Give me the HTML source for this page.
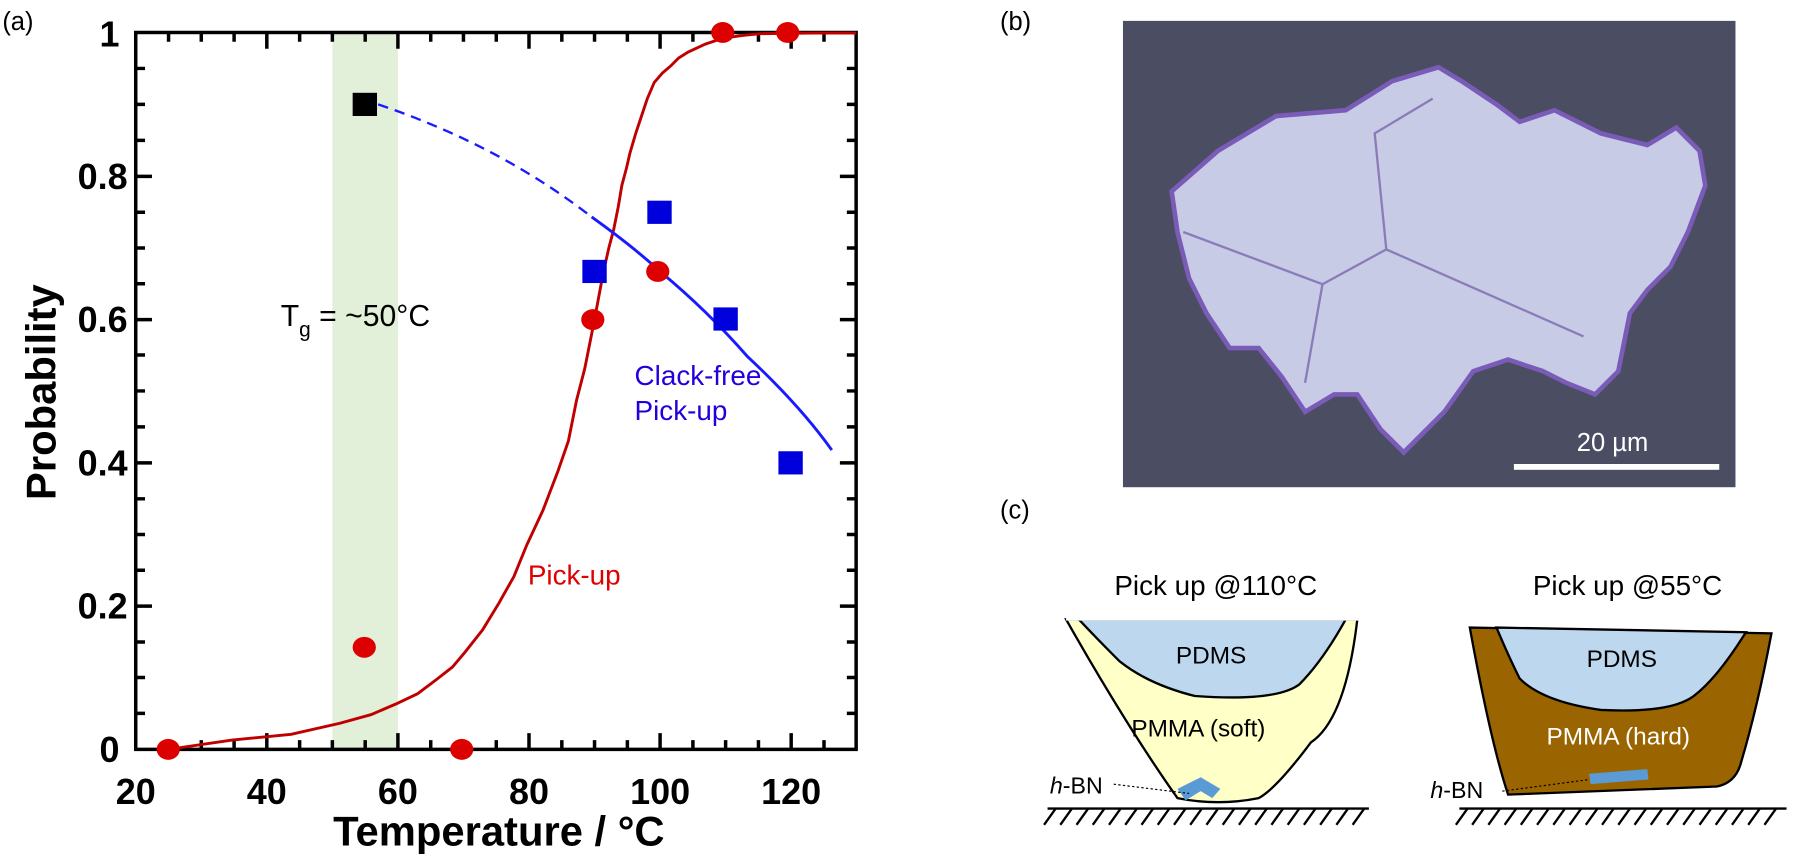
<!DOCTYPE html>
<html><head><meta charset="utf-8"><style>
html,body{margin:0;padding:0;background:#fff}
svg{display:block}
text{font-family:"Liberation Sans",sans-serif}
</style></head><body>
<svg width="1819" height="859" viewBox="0 0 1568 740.5" preserveAspectRatio="none" xmlns="http://www.w3.org/2000/svg">
<!-- panel a -->
<text x="2" y="26" font-size="22">(a)</text>
<rect x="286.5" y="28" width="56.5" height="618" fill="#e2efd9"/>
<g stroke="#000" stroke-width="3" fill="none">
<rect x="117" y="28" width="621" height="618"/>
</g>
<g stroke="#000" stroke-width="3">
<path d="M230 646v-14M343 646v-14M456 646v-14M569 646v-14M682 646v-14M230 28v14M343 28v14M456 28v14M569 28v14M682 28v14"/>
<path d="M145.3 646v-8M173.5 646v-8M201.8 646v-8M258.3 646v-8M286.5 646v-8M314.8 646v-8M371.3 646v-8M399.5 646v-8M427.8 646v-8M484.3 646v-8M512.5 646v-8M540.8 646v-8M597.3 646v-8M625.5 646v-8M653.8 646v-8M710.3 646v-8M145.3 28v8M173.5 28v8M201.8 28v8M258.3 28v8M286.5 28v8M314.8 28v8M371.3 28v8M399.5 28v8M427.8 28v8M484.3 28v8M512.5 28v8M540.8 28v8M597.3 28v8M625.5 28v8M653.8 28v8M710.3 28v8"/>
<path d="M117 522.5h14M117 399h14M117 275.5h14M117 152h14M738 522.5h-14M738 399h-14M738 275.5h-14M738 152h-14"/>
<path d="M117 615h8M117 584h8M117 553.4h8M117 491.6h8M117 460.8h8M117 430h8M117 368h8M117 337h8M117 306h8M117 244.6h8M117 213.8h8M117 183h8M117 121h8M117 90h8M117 59h8M738 615h-8M738 584h-8M738 553.4h-8M738 491.6h-8M738 460.8h-8M738 430h-8M738 368h-8M738 337h-8M738 306h-8M738 244.6h-8M738 213.8h-8M738 183h-8M738 121h-8M738 90h-8M738 59h-8"/>
</g>
<g font-size="31" font-weight="bold" text-anchor="middle">
<text x="117" y="693">20</text><text x="230" y="693">40</text><text x="343" y="693">60</text><text x="456" y="693">80</text><text x="569" y="693">100</text><text x="682" y="693">120</text>
</g>
<g font-size="31" font-weight="bold" text-anchor="end">
<text x="103" y="657">0</text><text x="110" y="533">0.2</text><text x="110" y="410">0.4</text><text x="110" y="286">0.6</text><text x="110" y="163">0.8</text><text x="103" y="40">1</text>
</g>
<text x="430" y="729" font-size="36" font-weight="bold" text-anchor="middle">Temperature / °C</text>
<text transform="translate(48 338) rotate(-90)" font-size="36" font-weight="bold" text-anchor="middle">Probability</text>
<text x="242" y="281" font-size="26">T<tspan font-size="18" dy="9">g</tspan><tspan dy="-9"> = ~50°C</tspan></text>
<!-- curves -->
<polyline fill="none" stroke="#c00000" stroke-width="2.5" points="145,646 200,638 251,633 293,623.5 320,616 341,607 360,598 376,586 390,575 401,562 416,543 430,520 443,497 454,470 468,440 481,406 490,380 497,345 504,318 510,288 515,262 520,235 525,213 529,198 533,178 536,160 540,145 543,132 548,115 553,100 558,85 564,71 571,63 578,57 585,50 593,45 608,38 623,33 640,30.5 655,29 700,28.5 738,28.5"/>
<path d="M326 90 Q430 125 510 187" fill="none" stroke="#1a1aff" stroke-width="2" stroke-dasharray="9 6"/>
<path d="M510 187 Q545 212 569 234 Q610 268 644 307 Q690 350 717 388" fill="none" stroke="#1a1aff" stroke-width="2.5"/>
<rect x="304" y="80" width="21" height="20" fill="#000"/>
<g fill="#0000dd">
<rect x="502" y="224" width="21" height="20"/><rect x="558" y="173" width="21" height="20"/><rect x="615" y="265" width="21" height="20"/><rect x="671" y="389" width="21" height="20"/>
</g>
<g fill="#dd0000">
<ellipse cx="145" cy="646" rx="10" ry="9"/><ellipse cx="314" cy="558" rx="10" ry="9"/><ellipse cx="398" cy="646" rx="10" ry="9"/><ellipse cx="511" cy="275.5" rx="10" ry="9"/><ellipse cx="567" cy="234" rx="10" ry="9"/><ellipse cx="623" cy="28" rx="10" ry="9"/><ellipse cx="679" cy="28" rx="10" ry="9"/>
</g>
<text x="455" y="504" font-size="24" fill="#e00000">Pick-up</text>
<text x="547" y="332" font-size="24" fill="#2200dd">Clack-free</text>
<text x="547" y="362" font-size="24" fill="#2200dd">Pick-up</text>
<!-- panel b -->
<text x="862" y="26" font-size="22">(b)</text>
<rect x="968" y="18" width="528" height="402" fill="#4b4e62"/>
<polygon points="1010,165 1050,130 1100,100 1160,95 1200,70 1240,58 1260,70 1290,90 1310,105 1340,95 1380,115 1420,125 1445,110 1465,130 1470,160 1455,200 1440,230 1420,250 1405,270 1395,320 1375,340 1350,330 1330,320 1300,310 1270,320 1245,355 1210,390 1190,370 1170,340 1150,340 1125,355 1105,325 1085,300 1060,300 1040,270 1025,240 1015,200" fill="#c8cbe6" stroke="#7a5bb8" stroke-width="4"/>
<g stroke="#8a7cb8" stroke-width="2" fill="none">
<path d="M1020 200 L1140 245 L1195 215 L1365 290"/><path d="M1195 215 L1185 115 L1235 85"/><path d="M1140 245 L1125 330"/>
</g>
<rect x="1305" y="400" width="177" height="5" fill="#fff"/>
<text x="1390" y="389" font-size="22" fill="#fff" text-anchor="middle">20 µm</text>
<!-- panel c -->
<text x="862" y="447" font-size="22">(c)</text>
<text x="1048" y="513" font-size="24" text-anchor="middle">Pick up @110°C</text>
<text x="1403" y="513" font-size="24" text-anchor="middle">Pick up @55°C</text>
<path d="M919 534 L1170 534 Q1160 620 1130 640 Q1100 680 1085 688 Q1050 695 1015 688 Q995 660 970 620 Q945 580 919 534Z" fill="#ffffc8" stroke="#000" stroke-width="2"/>
<path d="M930 534 L1160 534 Q1140 570 1120 590 Q1100 605 1030 600 Q990 590 965 570 Q945 550 930 534Z" fill="#bdd7ee" stroke="#000" stroke-width="2"/>
<rect x="919" y="532" width="252" height="3" fill="#fff"/>
<path d="M1015 680 L1035 670 L1052 680 L1045 688 L1035 682 L1022 690Z" fill="#5b9bd5"/>
<text x="1044" y="572" font-size="21" text-anchor="middle">PDMS</text>
<text x="1033" y="635" font-size="21" text-anchor="middle">PMMA (soft)</text>
<text x="905" y="684" font-size="20" font-style="italic">h<tspan font-style="normal">-BN</tspan></text>
<path d="M960 676 L1025 684" stroke="#000" stroke-dasharray="2 2"/>
<path d="M1267 541 L1527 546 Q1515 610 1500 660 Q1495 675 1480 678 L1300 685 Q1285 640 1267 541Z" fill="#9a6500" stroke="#000" stroke-width="2"/>
<path d="M1290 541 L1505 545 Q1480 585 1460 600 Q1440 615 1380 612 Q1330 605 1310 585 Q1300 565 1290 541Z" fill="#bdd7ee" stroke="#000" stroke-width="2"/>
<text x="1398" y="575" font-size="21" text-anchor="middle">PDMS</text>
<text x="1395" y="642" font-size="21" fill="#fff" text-anchor="middle">PMMA (hard)</text>
<path d="M1370 667 L1420 663 L1421 672 L1371 676Z" fill="#5b9bd5"/>
<text x="1233" y="688" font-size="20" font-style="italic">h<tspan font-style="normal">-BN</tspan></text>
<path d="M1295 682 L1370 672" stroke="#000" stroke-dasharray="2 2"/>
<g stroke="#000" stroke-width="2">
<path d="M903 697 H1180 M1258 697 H1540"/>
<path d="M910 697 l-10 14 M924 697 l-10 14 M938 697 l-10 14 M952 697 l-10 14 M966 697 l-10 14 M980 697 l-10 14 M994 697 l-10 14 M1008 697 l-10 14 M1022 697 l-10 14 M1036 697 l-10 14 M1050 697 l-10 14 M1064 697 l-10 14 M1078 697 l-10 14 M1092 697 l-10 14 M1106 697 l-10 14 M1120 697 l-10 14 M1134 697 l-10 14 M1148 697 l-10 14 M1162 697 l-10 14 M1176 697 l-10 14"/>
<path d="M1265 697 l-10 14 M1279 697 l-10 14 M1293 697 l-10 14 M1307 697 l-10 14 M1321 697 l-10 14 M1335 697 l-10 14 M1349 697 l-10 14 M1363 697 l-10 14 M1377 697 l-10 14 M1391 697 l-10 14 M1405 697 l-10 14 M1419 697 l-10 14 M1433 697 l-10 14 M1447 697 l-10 14 M1461 697 l-10 14 M1475 697 l-10 14 M1489 697 l-10 14 M1503 697 l-10 14 M1517 697 l-10 14 M1531 697 l-10 14"/>
</g>
</svg>
</body></html>
